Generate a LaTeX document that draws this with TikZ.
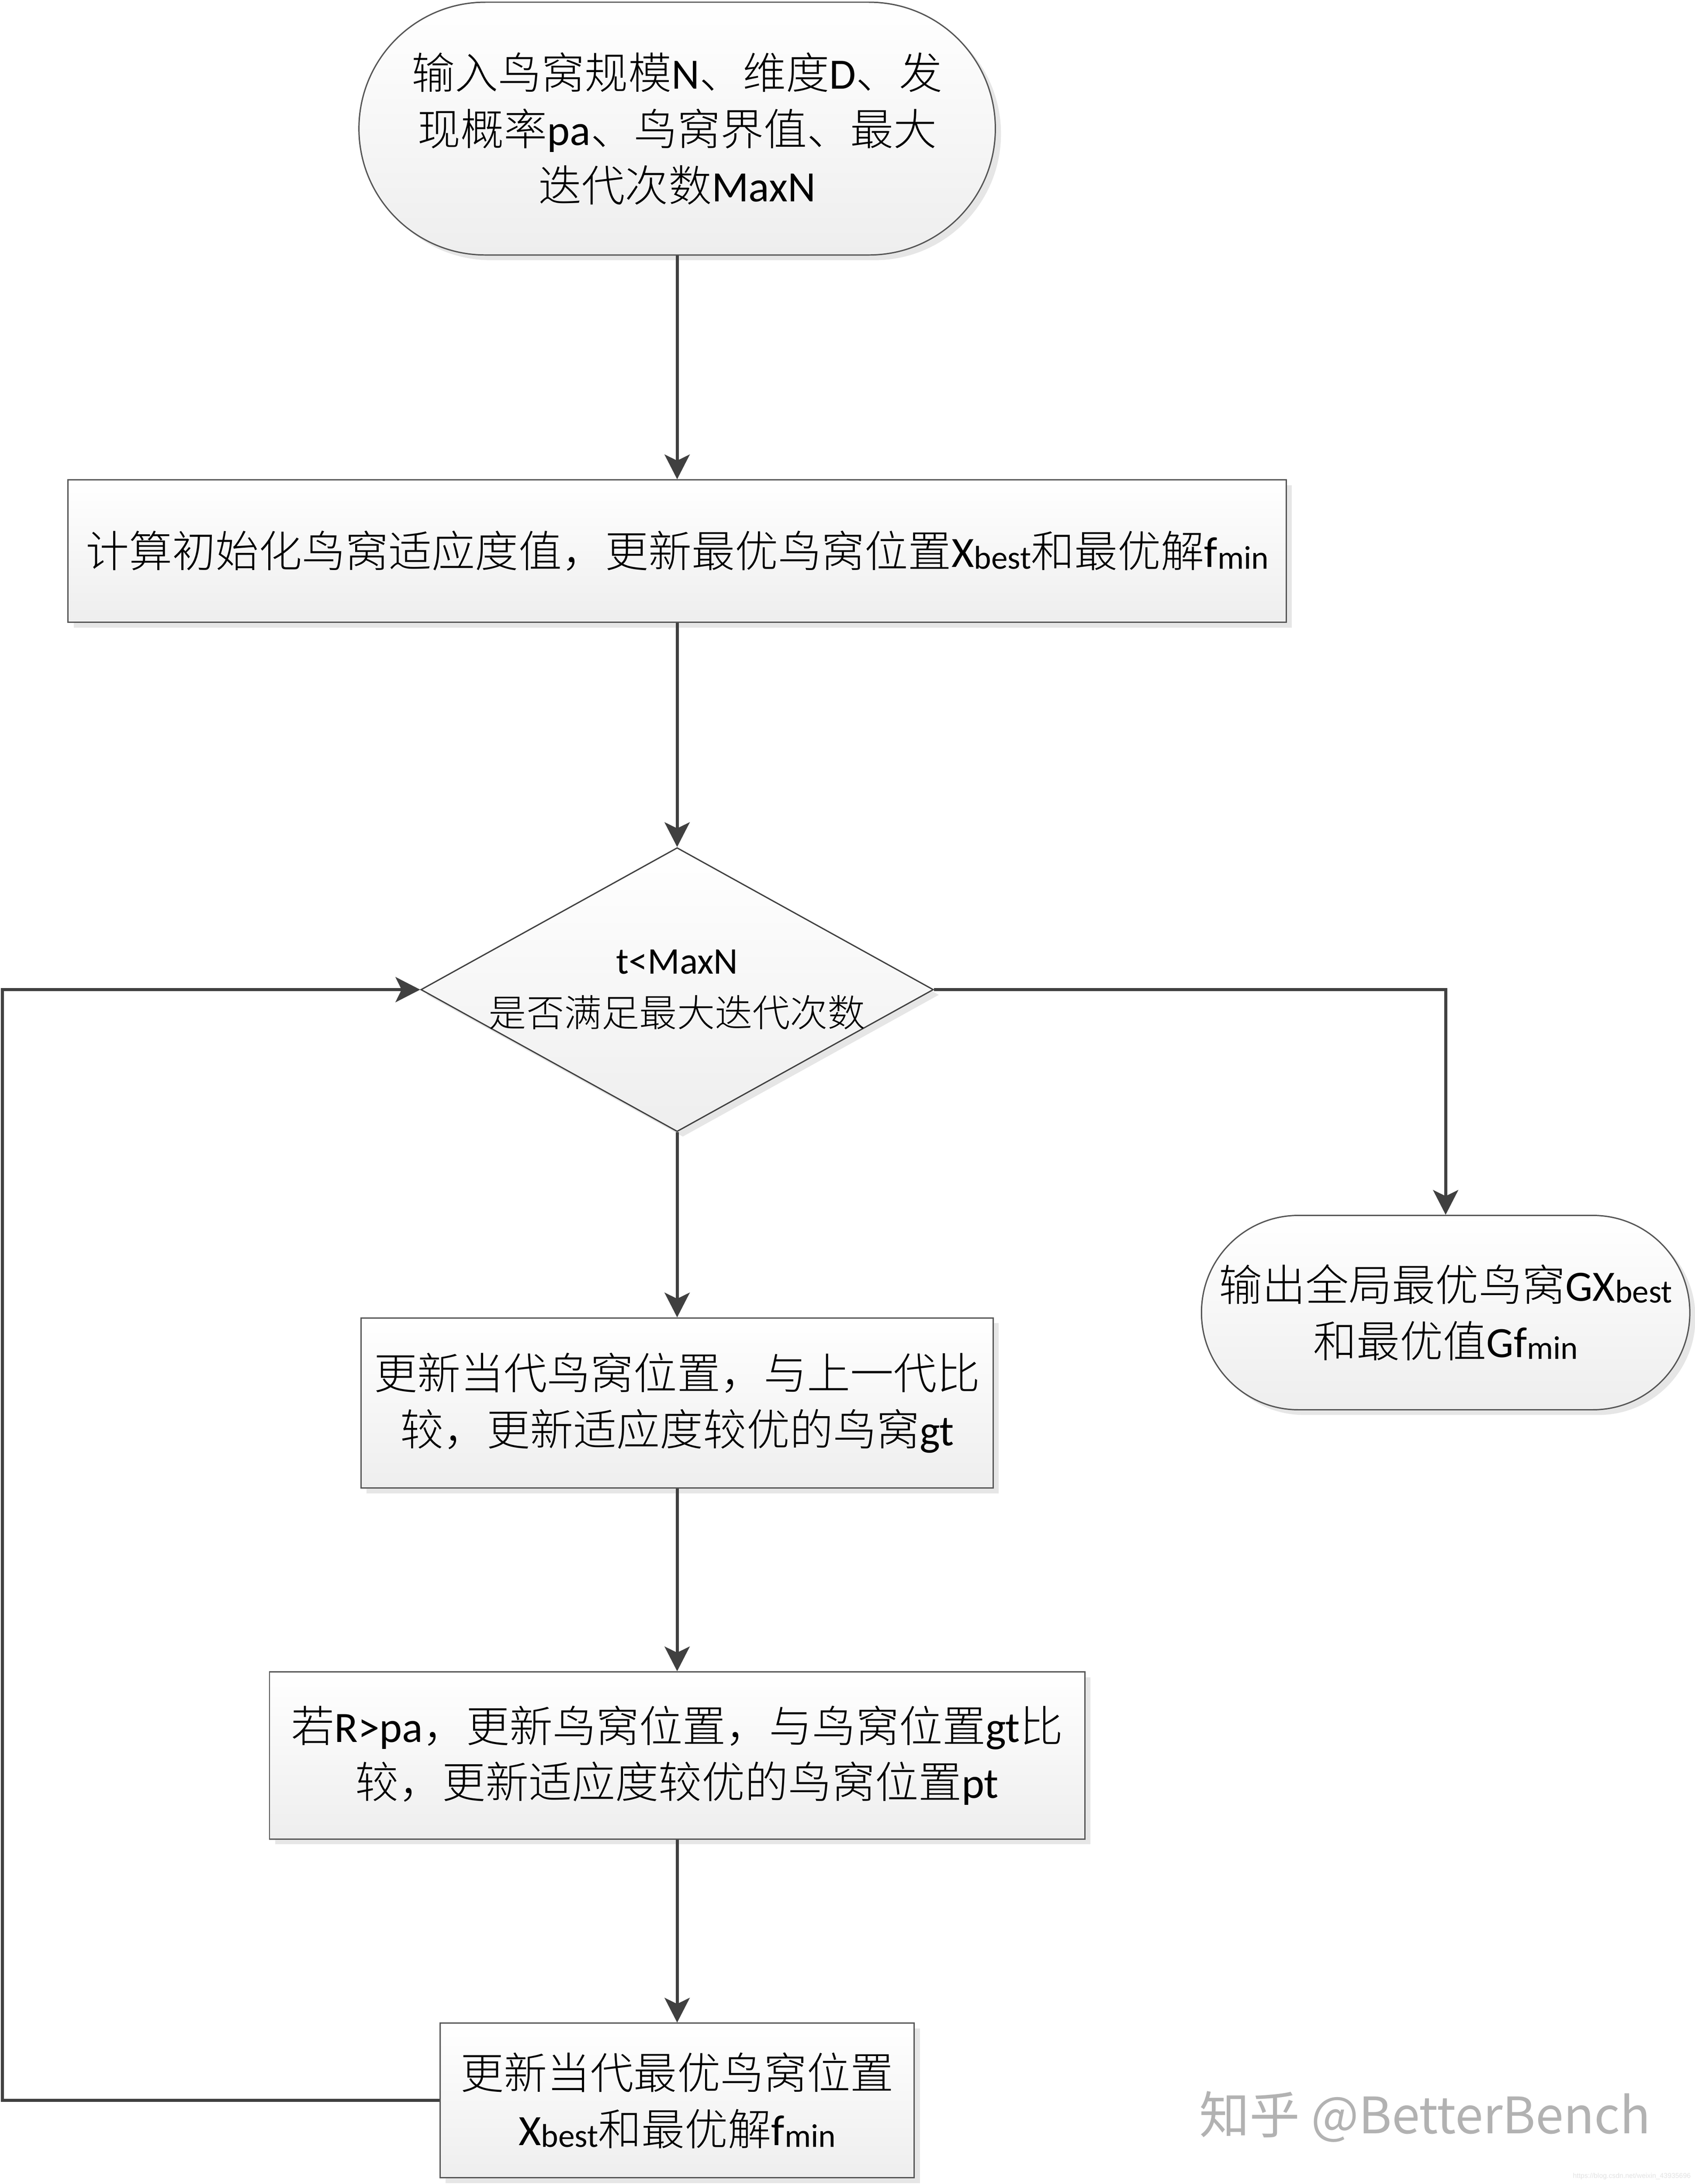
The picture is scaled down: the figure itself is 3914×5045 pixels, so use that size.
\documentclass[tikz,border=0pt]{standalone}
\usepackage{fontspec}
\IfFontExistsTF{Noto Sans CJK SC Light}{\setmainfont{Noto Sans CJK SC Light}}{\setmainfont{Noto Sans CJK SC}}
\newfontfamily\lat{Carlito}
\newfontfamily\wmfont{Noto Sans CJK SC}
\newfontfamily\urlfont{Liberation Sans}
\usetikzlibrary{shapes.geometric,shadows,arrows.meta}
\definecolor{ln}{HTML}{404040}
\definecolor{bd}{HTML}{555555}
\definecolor{sh}{HTML}{E6E6E6}
\definecolor{bot}{HTML}{EEEEEE}
\newcommand\la[1]{{\lat #1}}
\newcommand\sbs[1]{\raisebox{-0.4pt}{\fontsize{7.6pt}{8pt}\selectfont\lat #1}}
\tikzset{
  base/.style={draw=bd, line width=0.3pt, top color=white, bottom color=bot,
    drop shadow={shadow xshift=1.3pt, shadow yshift=-1.2pt, fill=sh, opacity=1},
    inner sep=0pt, align=center, font=\fontsize{10pt}{13pt}\selectfont},
  proc/.style={base, rectangle},
  decision/.style={base, diamond, draw=ln},
  dtext/.style={align=center, inner sep=0pt, font=\fontsize{8.7pt}{12.2pt}\selectfont},
  conn/.style={draw=ln, line width=0.7pt, -{Stealth[length=5.7pt,width=5.8pt,inset=1.4pt]}},
}
\begin{document}
\begin{tikzpicture}[x=0.1pt,y=-0.1pt]
\fill[white] (0,0) rectangle (3914,5045);
\useasboundingbox (0,0) rectangle (3914,5045);

\node[proc, rounded corners=29.2pt, minimum width=147pt, minimum height=58.4pt] (start) at (1564,297)
  {输入鸟窝规模\la{N}、维度\la{D}、发\\现概率\la{pa}、鸟窝界值、最大\\迭代次数\la{MaxN}};

\node[proc, minimum width=281.4pt, minimum height=32.9pt] (init) at (1564,1273)
  {计算初始化鸟窝适应度值，更新最优鸟窝位置\la{X}\sbs{best}和最优解\la{f}\sbs{min}};

\node[decision, minimum width=118.4pt, minimum height=65.6pt] (dec) at (1564,2286) {};
\node[dtext] (dect) at (dec.center) {\la{t<MaxN}\\是否满足最大迭代次数};

\node[proc, rounded corners=22.4pt, minimum width=112.8pt, minimum height=44.9pt] (out) at (3339,3032)
  {输出全局最优鸟窝\la{GX}\sbs{best}\\和最优值\la{Gf}\sbs{min}};

\node[proc, minimum width=146pt, minimum height=39.3pt] (upd) at (1564,3241)
  {更新当代鸟窝位置，与上一代比\\较，更新适应度较优的鸟窝\la{gt}};

\node[proc, minimum width=188.3pt, minimum height=38.6pt] (rpa) at (1564,4055)
  {若\la{R>pa}，更新鸟窝位置，与鸟窝位置\la{gt}比\\较，更新适应度较优的鸟窝位置\la{pt}};

\node[proc, minimum width=109.5pt, minimum height=35.7pt] (best) at (1564,4852)
  {更新当代最优鸟窝位置\\\la{X}\sbs{best}和最优解\la{f}\sbs{min}};

\draw[conn] (start) -- (init);
\draw[conn] (init) -- (dec);
\draw[conn] (dec) -- (upd);
\draw[conn] (upd) -- (rpa);
\draw[conn] (rpa) -- (best);
\draw[conn] (dec.east) -| (out.north);
\coordinate (lx) at (6,0);
\draw[conn] (best.west) -- (best.west -| lx) |- (dec.west);

\node[text=black!30, inner sep=0pt, font=\wmfont\fontsize{11pt}{13pt}\selectfont] (wm) at (3291,4890)
  {\resizebox{104.2pt}{!}{知乎 @BetterBench}};
\node[text=black!11, inner sep=0pt, font=\urlfont] (url) at (3769,5027)
  {\resizebox{27.2pt}{!}{https://blog.csdn.net/weixin\_43935696}};
\end{tikzpicture}
\end{document}
